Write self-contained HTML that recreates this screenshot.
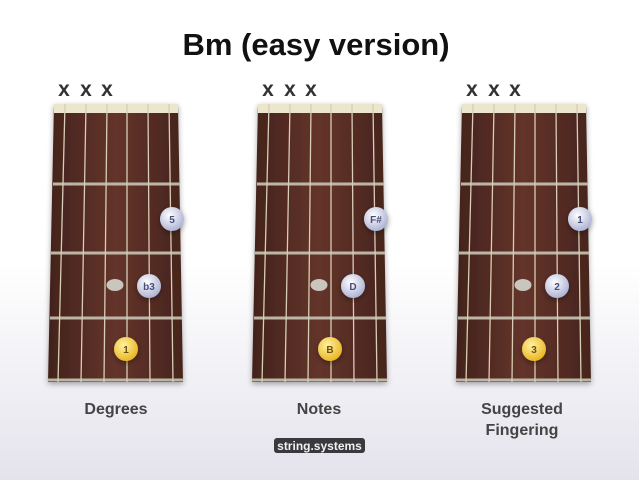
<!DOCTYPE html>
<html><head><meta charset="utf-8"><style>
html,body{margin:0;padding:0;width:639px;height:480px;overflow:hidden}
body{background:linear-gradient(#ffffff 0%,#ffffff 55%,#e4e3ec 100%);font-family:"Liberation Sans",sans-serif}
</style></head><body>
<svg width="639" height="480" viewBox="0 0 639 480" xmlns="http://www.w3.org/2000/svg" font-family="Liberation Sans, sans-serif">
<defs>
<linearGradient id="wood" x1="0" x2="1" y1="0" y2="0">
<stop offset="0" stop-color="#42231c"/><stop offset="0.5" stop-color="#64342a"/><stop offset="1" stop-color="#46241d"/>
</linearGradient>
<radialGradient id="wd" cx="0.4" cy="0.35" r="0.7"><stop offset="0" stop-color="#ffffff"/><stop offset="1" stop-color="#a9aed2"/></radialGradient>
<radialGradient id="yd" cx="0.4" cy="0.35" r="0.7"><stop offset="0" stop-color="#fff2a0"/><stop offset="1" stop-color="#e8b21c"/></radialGradient>
<filter id="sh" x="-20%" y="-20%" width="140%" height="140%"><feDropShadow dx="0" dy="2" stdDeviation="3" flood-color="#000" flood-opacity="0.35"/></filter>
<g id="board">
<polygon points="54,104 178,104 183,382 48,382" fill="url(#wood)" filter="url(#sh)"/>
<polygon points="54,104 178,104 178,113 54,113" fill="#ece6cc"/>
<g stroke="#bdb6a6" stroke-width="3">
<line x1="53" y1="184" x2="180" y2="184"/><line x1="51" y1="253" x2="181" y2="253"/><line x1="50" y1="318" x2="182" y2="318"/><line x1="48" y1="380" x2="183" y2="380"/>
</g>
<g stroke="#d8cdb8" stroke-width="1.3">
<line x1="65" y1="104" x2="58" y2="382"/><line x1="86" y1="104" x2="81" y2="382"/><line x1="107" y1="104" x2="104" y2="382"/><line x1="127" y1="104" x2="127" y2="382"/><line x1="148" y1="104" x2="150" y2="382"/><line x1="169" y1="104" x2="173" y2="382"/>
</g>
<ellipse cx="115" cy="285" rx="8.5" ry="6" fill="#c8c6bd"/>
<circle cx="172" cy="219" r="12" fill="url(#wd)" filter="url(#sh)"/>
<circle cx="149" cy="286" r="12" fill="url(#wd)" filter="url(#sh)"/>
<circle cx="126" cy="349" r="12" fill="url(#yd)" filter="url(#sh)"/>
</g>
</defs>
<text x="316" y="55" text-anchor="middle" font-size="31" font-weight="bold" fill="#111">Bm (easy version)</text>
<g font-size="21" font-weight="bold" fill="#333">
<text x="64" y="96" text-anchor="middle">x</text><text x="86" y="96" text-anchor="middle">x</text><text x="107" y="96" text-anchor="middle">x</text>
<text x="268" y="96" text-anchor="middle">x</text><text x="290" y="96" text-anchor="middle">x</text><text x="311" y="96" text-anchor="middle">x</text>
<text x="472" y="96" text-anchor="middle">x</text><text x="494" y="96" text-anchor="middle">x</text><text x="515" y="96" text-anchor="middle">x</text>
</g>
<use href="#board"/>
<use href="#board" x="204"/>
<use href="#board" x="408"/>
<g font-size="10" font-weight="bold" fill="#4a4c7a" text-anchor="middle">
<text x="172" y="223">5</text><text x="149" y="290">b3</text><text x="126" y="353" fill="#6a5010">1</text>
<text x="376" y="223">F#</text><text x="353" y="290">D</text><text x="330" y="353" fill="#6a5010">B</text>
<text x="580" y="223">1</text><text x="557" y="290">2</text><text x="534" y="353" fill="#6a5010">3</text>
</g>
<g font-size="16" font-weight="bold" fill="#444" text-anchor="middle">
<text x="116" y="414">Degrees</text>
<text x="319" y="414">Notes</text>
<text x="522" y="414">Suggested</text>
<text x="522" y="435">Fingering</text>
</g>
<rect x="274" y="438" width="91" height="15" rx="3" fill="#3a3a3e"/>
<text x="319.5" y="450" text-anchor="middle" font-size="12" font-weight="bold" fill="#f0f0f0">string.systems</text>
</svg>
</body></html>
